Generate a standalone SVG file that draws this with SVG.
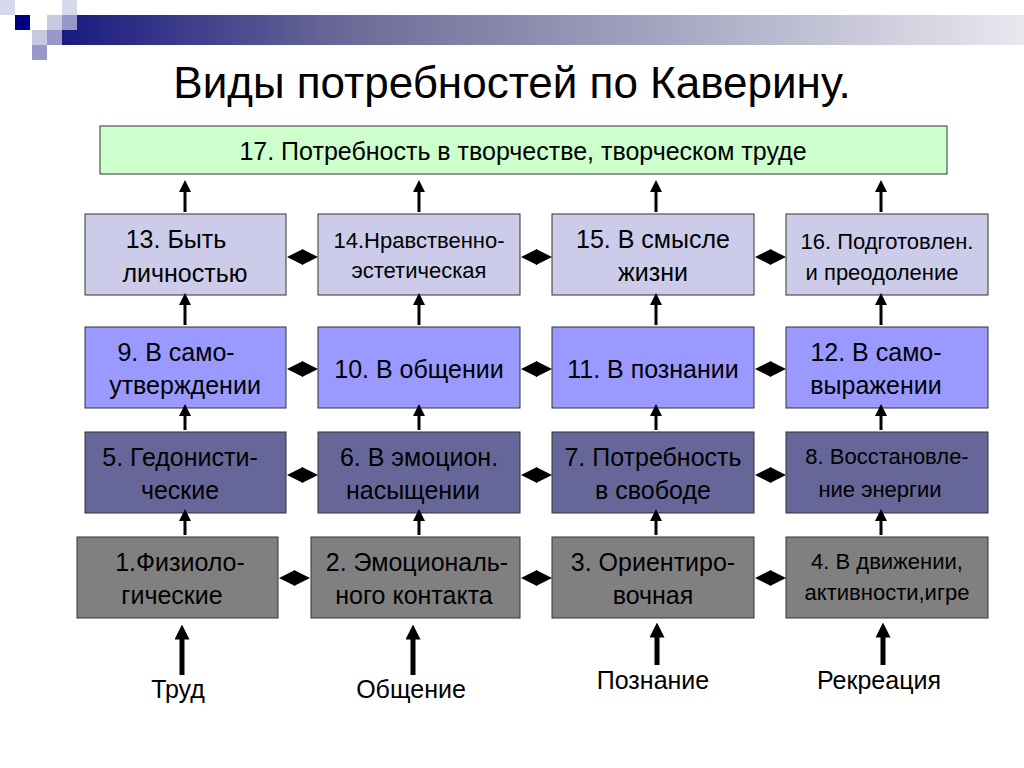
<svg xmlns="http://www.w3.org/2000/svg" width="1024" height="768" viewBox="0 0 1024 768">
<defs>
<linearGradient id="bar" x1="0" x2="1"><stop offset="0" stop-color="#1a1a80"/><stop offset="0.3" stop-color="#6b6b99"/><stop offset="1" stop-color="#e8e8f0"/></linearGradient>
<marker id="ah" viewBox="0 0 10 10" refX="5" refY="5" markerWidth="4" markerHeight="4" orient="auto-start-reverse" markerUnits="strokeWidth"><path d="M0,0 L10,5 L0,10 z" fill="#000"/></marker>
<marker id="bh" viewBox="0 0 10 10" refX="5" refY="5" markerWidth="3" markerHeight="3" orient="auto" markerUnits="strokeWidth"><path d="M0,0 L10,5 L0,10 z" fill="#000"/></marker>
</defs>
<style>
text{font-family:"Liberation Sans",Arial,sans-serif;fill:#000;text-anchor:middle}
.b{stroke:#333;stroke-width:1}
.t{font-size:25px}
.s{font-size:22px}
.c line{stroke:#000;stroke-width:3}
.u{marker-end:url(#ah)}
.d{stroke-width:4!important;marker-start:url(#ah);marker-end:url(#ah)}
.bot{stroke-width:5!important;marker-end:url(#bh)}
</style>
<rect width="1024" height="768" fill="#fff"/>
<g id="deco">
<rect x="62" y="15" width="962" height="30" fill="url(#bar)"/>
<rect x="0" y="0" width="15" height="15" fill="#d8d8ec"/>
<rect x="62" y="0" width="15" height="15" fill="#d8d8ec"/>
<rect x="15" y="15" width="15" height="15" fill="#000080"/>
<rect x="47" y="15" width="15" height="15" fill="#c8c8e0"/>
<rect x="62" y="15" width="15" height="15" fill="#9898c8"/>
<rect x="32" y="30" width="15" height="15" fill="#c8c8e0"/>
<rect x="47" y="30" width="15" height="15" fill="#9898c8"/>
<rect x="32" y="45" width="15" height="15" fill="#9898c8"/>
</g>
<text x="512" y="98" style="font-size:44px">Виды потребностей по Каверину.</text>
<g id="n17"><rect class="b" x="100" y="126" width="847" height="48" fill="#ccffcc"/><text class="t" x="523" y="160">17. Потребность в творчестве, творческом труде</text></g>
<g id="n13"><rect class="b" x="85" y="214" width="201" height="81" fill="#ccccea"/><text class="t" x="176" y="248">13. Быть</text><text class="t" x="185" y="282">личностью</text></g>
<g id="n14"><rect class="b" x="318" y="214" width="202" height="81" fill="#ccccea"/><text class="s" x="419" y="248">14.Нравственно-</text><text class="s" x="419" y="278">эстетическая</text></g>
<g id="n15"><rect class="b" x="552" y="214" width="202" height="81" fill="#ccccea"/><text class="t" x="653" y="248">15. В смысле</text><text class="t" x="653" y="281">жизни</text></g>
<g id="n16"><rect class="b" x="786" y="214" width="202" height="81" fill="#ccccea"/><text class="s" x="887" y="249">16. Подготовлен.</text><text class="s" x="882" y="280">и преодоление</text></g>
<g id="n9"><rect class="b" x="85" y="327" width="201" height="81" fill="#9999ff"/><text class="t" x="176" y="361">9. В само-</text><text class="t" x="185" y="394">утверждении</text></g>
<g id="n10"><rect class="b" x="318" y="327" width="202" height="81" fill="#9999ff"/><text class="t" x="419" y="378">10. В общении</text></g>
<g id="n11"><rect class="b" x="552" y="327" width="202" height="81" fill="#9999ff"/><text class="t" x="653" y="378">11. В познании</text></g>
<g id="n12"><rect class="b" x="786" y="327" width="202" height="81" fill="#9999ff"/><text class="t" x="876" y="361">12. В само-</text><text class="t" x="876" y="394">выражении</text></g>
<g id="n5"><rect class="b" x="85" y="432" width="201" height="81" fill="#666699"/><text class="t" x="180" y="466">5. Гедонисти-</text><text class="t" x="180" y="499">ческие</text></g>
<g id="n6"><rect class="b" x="318" y="432" width="202" height="81" fill="#666699"/><text class="t" x="419" y="466">6. В эмоцион.</text><text class="t" x="413" y="499">насыщении</text></g>
<g id="n7"><rect class="b" x="552" y="432" width="202" height="81" fill="#666699"/><text class="t" x="653" y="466">7. Потребность</text><text class="t" x="653" y="499">в свободе</text></g>
<g id="n8"><rect class="b" x="786" y="432" width="202" height="81" fill="#666699"/><text class="s" x="887" y="464">8. Восстановле-</text><text class="s" x="880" y="497">ние энергии</text></g>
<g id="n1"><rect class="b" x="77" y="537" width="201" height="81" fill="#808080"/><text class="t" x="180" y="571">1.Физиоло-</text><text class="t" x="172" y="604">гические</text></g>
<g id="n2"><rect class="b" x="311" y="537" width="209" height="81" fill="#808080"/><text class="t" x="417" y="571">2. Эмоциональ-</text><text class="t" x="414" y="604">ного  контакта</text></g>
<g id="n3"><rect class="b" x="552" y="537" width="202" height="81" fill="#808080"/><text class="t" x="653" y="571">3. Ориентиро-</text><text class="t" x="653" y="604">вочная</text></g>
<g id="n4"><rect class="b" x="786" y="537" width="202" height="81" fill="#808080"/><text class="s" x="887" y="569">4. В движении,</text><text class="s" x="887" y="600">активности,игре</text></g>
<g class="c" id="connectors">
<line class="u" x1="185" y1="212" x2="185" y2="186"/><line class="u" x1="419" y1="212" x2="419" y2="186"/><line class="u" x1="656" y1="212" x2="656" y2="186"/><line class="u" x1="881" y1="212" x2="881" y2="186"/>
<line class="u" x1="185" y1="325" x2="185" y2="299"/><line class="u" x1="419" y1="325" x2="419" y2="299"/><line class="u" x1="656" y1="325" x2="656" y2="299"/><line class="u" x1="881" y1="325" x2="881" y2="299"/>
<line class="u" x1="185" y1="430" x2="185" y2="410"/><line class="u" x1="419" y1="430" x2="419" y2="410"/><line class="u" x1="656" y1="430" x2="656" y2="410"/><line class="u" x1="881" y1="430" x2="881" y2="410"/>
<line class="u" x1="185" y1="535" x2="185" y2="515"/><line class="u" x1="419" y1="535" x2="419" y2="515"/><line class="u" x1="656" y1="535" x2="656" y2="515"/><line class="u" x1="881" y1="535" x2="881" y2="515"/>
<line class="d" x1="295" y1="257" x2="310" y2="257"/><line class="d" x1="529" y1="257" x2="544" y2="257"/><line class="d" x1="763" y1="257" x2="778" y2="257"/>
<line class="d" x1="295" y1="369" x2="310" y2="369"/><line class="d" x1="529" y1="369" x2="544" y2="369"/><line class="d" x1="763" y1="369" x2="778" y2="369"/>
<line class="d" x1="295" y1="475" x2="310" y2="475"/><line class="d" x1="529" y1="475" x2="544" y2="475"/><line class="d" x1="763" y1="475" x2="778" y2="475"/>
<line class="d" x1="287" y1="578" x2="302" y2="578"/><line class="d" x1="529" y1="578" x2="544" y2="578"/><line class="d" x1="763" y1="578" x2="778" y2="578"/>
<line class="bot" x1="182" y1="675" x2="182" y2="632"/><line class="bot" x1="413" y1="675" x2="413" y2="632"/><line class="bot" x1="657" y1="665" x2="657" y2="630"/><line class="bot" x1="883" y1="665" x2="883" y2="630"/>
</g>
<text class="t" x="178" y="698">Труд</text>
<text class="t" x="411" y="698">Общение</text>
<text class="t" x="653" y="689">Познание</text>
<text class="t" x="879" y="689">Рекреация</text>
</svg>
